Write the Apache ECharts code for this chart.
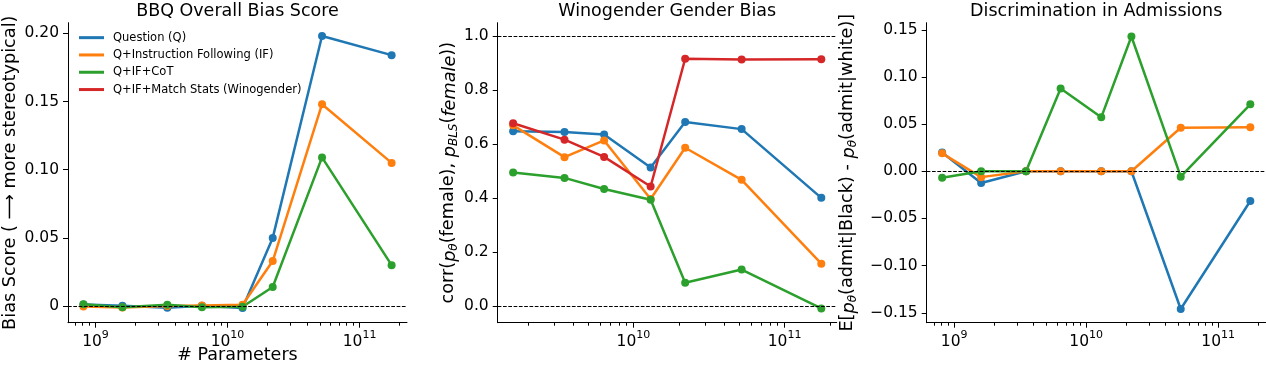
<!DOCTYPE html>
<html><head><meta charset="utf-8">
<script src="https://cdn.jsdelivr.net/npm/echarts@6/dist/echarts.min.js"></script>
<style>html,body{margin:0;padding:0;background:#fff}#c{width:1266px;height:366px}</style>
</head><body><div id="c"></div>
<script>
// ---- data ----
const seriesNames = ['Question (Q)', 'Q+Instruction Following (IF)', 'Q+IF+CoT', 'Q+IF+Match Stats (Winogender)'];
const colors = ['#1f77b4', '#ff7f0e', '#2ca02c', '#d62728'];
const titles = ['BBQ Overall Bias Score', 'Winogender Gender Bias', 'Discrimination in Admissions'];

const params = [8.1e8, 1.6e9, 3.5e9, 6.4e9, 1.3e10, 2.2e10, 5.2e10, 1.75e11];
const winoParams = [1.6e9, 3.5e9, 6.4e9, 1.3e10, 2.2e10, 5.2e10, 1.75e11];

const bbqQ   = [0.0012, 0.0002, -0.0012, 0.0002, -0.0015, 0.050, 0.198, 0.184];
const bbqIF  = [-0.0003, -0.0010, 0.0000, 0.0005, 0.0010, 0.033, 0.148, 0.105];
const bbqCoT = [0.0013, -0.0008, 0.0010, -0.0008, -0.0005, 0.014, 0.109, 0.030];

const winoQ     = [0.648, 0.645, 0.636, 0.514, 0.682, 0.656, 0.401];
const winoIF    = [0.670, 0.552, 0.614, 0.397, 0.587, 0.468, 0.157];
const winoCoT   = [0.495, 0.475, 0.434, 0.394, 0.086, 0.135, -0.009];
const winoMatch = [0.678, 0.617, 0.553, 0.443, 0.917, 0.914, 0.915];

const admQ   = [0.020, -0.0125, 0.0, 0.0, 0.0, 0.0, -0.146, -0.0315];
const admIF  = [0.019, -0.0062, 0.0, 0.0, 0.0, 0.0, 0.0462, 0.0466];
const admCoT = [-0.0068, 0.0, 0.0, 0.0877, 0.0572, 0.1429, -0.0057, 0.0710];

const bbqTicks  = [0, 0.05, 0.10, 0.15, 0.20];
const winoTicks = [0, 0.2, 0.4, 0.6, 0.8, 1.0];
const admTicks  = [-0.15, -0.10, -0.05, 0, 0.05, 0.10, 0.15];
const xMajor1 = [1e9, 1e10, 1e11];
const xMajor2 = [1e10, 1e11];

// ---- layout ----
const FONT = 'DejaVu Sans';
const grids = [
  {left: 68, top: 22.7, width: 339, height: 300},
  {left: 497.7, top: 22.7, width: 339, height: 300},
  {left: 926.7, top: 22.7, width: 339, height: 300}
];
const xRanges = [[6.19e8, 2.289e11], [1.265e9, 2.213e11], [6.19e8, 2.289e11]];
const yRanges = [[-0.0122, 0.2078], [-0.062, 1.0507], [-0.1605, 0.1575]];

function minorValues(lo, hi) {
  const out = [];
  for (let n = 8; n <= 11; n++) for (let k = 2; k <= 9; k++) {
    const v = k * Math.pow(10, n);
    if (v >= lo && v <= hi) out.push(v);
  }
  return out;
}
const blackLine = {color: '#000', width: 1};
const xAxes = [], yAxes = [];
[xMajor1, xMajor2, xMajor1].forEach((maj, g) => {
  xAxes.push({
    type: 'log', gridIndex: g, position: 'bottom', min: xRanges[g][0], max: xRanges[g][1],
    axisLine: {show: true, onZero: false, lineStyle: blackLine},
    axisTick: {show: true, length: 5, lineStyle: blackLine, customValues: maj},
    minorTick: {show: false}, splitLine: {show: false},
    axisLabel: {
      customValues: maj, margin: 7, color: '#000', fontFamily: FONT,
      formatter: v => '{b|10}{s|' + Math.round(Math.log10(v)) + '}',
      rich: {b: {fontSize: 15.5, fontFamily: FONT, color: '#000', lineHeight: 20, verticalAlign: 'bottom'},
             s: {fontSize: 11, fontFamily: FONT, color: '#000', lineHeight: 11, verticalAlign: 'top'}}
    },
    name: g === 0 ? '# Parameters' : '', nameLocation: 'middle', nameGap: 24, nameMoveOverlap: false,
    nameTextStyle: {fontSize: 17.5, fontFamily: FONT, color: '#000'}
  });
});
[0, 1, 2].forEach(g => {
  xAxes.push({
    type: 'log', gridIndex: g, position: 'bottom', offset: 0, min: xRanges[g][0], max: xRanges[g][1],
    axisLine: {show: false, onZero: false},
    axisTick: {show: true, length: 3, lineStyle: blackLine, customValues: minorValues(xRanges[g][0], xRanges[g][1])},
    axisLabel: {show: false}, splitLine: {show: false}, minorTick: {show: false}
  });
});
const yTickSets = [bbqTicks, winoTicks, admTicks];
const yFormatters = [
  v => (Math.abs(v) < 1e-9 ? '0' : v.toFixed(2)),
  v => v.toFixed(1),
  v => (Math.abs(v) < 1e-9 ? '0.00' : (v < 0 ? '\u2212' + (-v).toFixed(2) : v.toFixed(2)))
];
const yNames = [
  'Bias Score ( \u27F6 more stereotypical)',
  'corr({i|p}{sub|\u03B8}(female), {i|p}{sub|BLS}({i|female}))',
  'E[{i|p}{sub|\u03B8}(admit|Black) - {i|p}{sub|\u03B8}(admit|white)]'
];
const yNameGaps = [47, 38, 68];
const richName = {
  i: {fontSize: 17.7, fontFamily: FONT, fontStyle: 'italic', color: '#000', lineHeight: 22, verticalAlign: 'bottom'},
  sub: {fontSize: 12, fontFamily: FONT, fontStyle: 'italic', color: '#000', lineHeight: 12, verticalAlign: 'bottom'}
};
[0, 1, 2].forEach(g => {
  yAxes.push({
    type: 'value', gridIndex: g, min: yRanges[g][0], max: yRanges[g][1],
    axisLine: {show: true, onZero: false, lineStyle: blackLine},
    axisTick: {show: true, length: 5, lineStyle: blackLine, customValues: yTickSets[g]},
    axisLabel: {customValues: yTickSets[g], formatter: yFormatters[g], fontSize: 15.5, fontFamily: FONT, color: '#000', margin: 9},
    splitLine: {show: false},
    name: yNames[g], nameLocation: 'middle', nameRotate: 90, nameGap: yNameGaps[g], nameMoveOverlap: false,
    nameTextStyle: {fontSize: 17.7, fontFamily: FONT, color: '#000', lineHeight: 22, rich: richName}
  });
});

// ---- series ----
function mk(name, xs, ys, g, colorIdx, zeroLines) {
  const s = {
    type: 'line', name: name, xAxisIndex: g, yAxisIndex: g,
    data: xs.map((x, i) => [x, ys[i]]),
    symbol: 'circle', symbolSize: 8, showSymbol: true,
    lineStyle: {width: 2.5, color: colors[colorIdx]},
    itemStyle: {color: colors[colorIdx]},
    emphasis: {disabled: true}, animation: false
  };
  if (zeroLines) {
    s.markLine = {
      silent: true, symbol: ['none', 'none'], label: {show: false}, animation: false,
      lineStyle: {color: '#000', type: [3.7, 1.6], width: 1},
      emphasis: {disabled: true},
      data: zeroLines.map(v => ({yAxis: v}))
    };
  }
  return s;
}
const series = [
  mk(seriesNames[0], params, bbqQ, 0, 0, [0]),
  mk(seriesNames[1], params, bbqIF, 0, 1),
  mk(seriesNames[2], params, bbqCoT, 0, 2),
  mk(seriesNames[0], winoParams, winoQ, 1, 0, [0, 1]),
  mk(seriesNames[1], winoParams, winoIF, 1, 1),
  mk(seriesNames[2], winoParams, winoCoT, 1, 2),
  mk(seriesNames[3], winoParams, winoMatch, 1, 3),
  mk(seriesNames[0], params, admQ, 2, 0, [0]),
  mk(seriesNames[1], params, admIF, 2, 1),
  mk(seriesNames[2], params, admCoT, 2, 2)
];

const chart = echarts.init(document.getElementById('c'), null, {renderer: 'canvas'});
chart.setOption({
  animation: false,
  backgroundColor: '#fff',
  textStyle: {fontFamily: FONT},
  title: titles.map((t, g) => ({
    text: t, left: grids[g].left + grids[g].width / 2, top: 2.5, textAlign: 'center', padding: 0,
    textStyle: {fontSize: 17.5, fontWeight: 'normal', fontFamily: FONT, color: '#000'}
  })),
  legend: {
    orient: 'vertical', left: 79, top: 30.5, icon: 'rect', itemWidth: 25, itemHeight: 3, itemGap: 3,
    padding: 0, selectedMode: false,
    textStyle: {fontSize: 11.5, fontFamily: FONT, color: '#000', lineHeight: 14.3, padding: [0, 0, 0, 4]},
    data: seriesNames
  },
  grid: grids.map(g => Object.assign({outerBoundsMode: 'none', containLabel: false}, g)),
  xAxis: xAxes,
  yAxis: yAxes,
  series: series
});
</script>
</body></html>
